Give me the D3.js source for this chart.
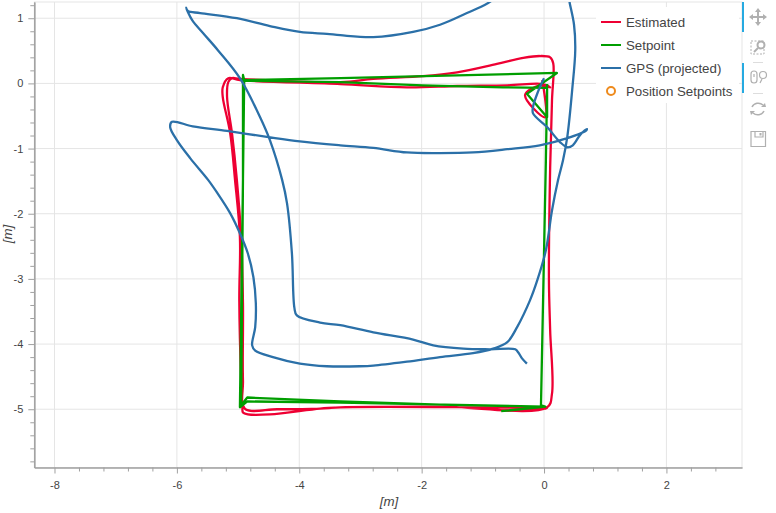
<!DOCTYPE html>
<html>
<head>
<meta charset="utf-8">
<script src="https://cdnjs.cloudflare.com/ajax/libs/d3/7.8.5/d3.min.js"></script>
<style>
  html, body { margin: 0; padding: 0; background: #fff; }
  svg { display: block; font-family: "Liberation Sans", Helvetica, Arial, sans-serif; }
</style>
</head>
<body>
<svg id="chart" width="776" height="513"></svg>
<script>
// values, [x, y] in metres
const estimated = [[-0.03,0.05],[0.02,-0.52],[-0.31,-0.18],[-0.07,-0.03],[0.10,-0.06],[-0.02,-0.01],
  [-0.60,-0.03],[-1.42,-0.04],[-2.24,-0.06],[-3.33,-0.01],[-4.97,0.05],[-5.16,0.08],[-5.25,-0.06],
  [-5.25,-0.21],[-5.13,-0.76],[-5.05,-1.48],[-4.97,-2.36],[-4.98,-3.33],[-4.95,-4.56],[-4.93,-4.97],
  [-4.92,-5.05],[-4.84,-5.08],[-4.48,-5.08],[-3.66,-4.99],[-3.33,-4.97],[-1.70,-4.96],[0.05,-4.97],
  [0.13,-4.76],[0.10,-3.79],[0.08,-3.02],[0.10,-1.29],[0.13,-0.26],[0.15,0.31],[0.10,0.40],[-0.07,0.42],
  [-0.34,0.39],[-0.77,0.30],[-1.42,0.17],[-1.98,0.11],[-2.79,0.07],[-3.33,0.02],[-4.97,0.07],[-5.10,0.08],
  [-5.16,0.02],[-5.18,-0.21],[-5.10,-0.76],[-5.02,-1.48],[-4.95,-2.36],[-4.92,-3.37],[-4.92,-4.56],
  [-4.89,-4.99],[-4.36,-5.00],[-3.66,-4.99],[-3.33,-4.97],[0.05,-4.99],[-0.69,-5.02]];

const setpoint = [[0.05,-0.01],[0.05,-0.52],[-0.28,-0.16],[0.21,0.16],[-3.33,0.08],[-4.90,0.05],[-4.92,0.13],[-4.92,-1.48],
  [-4.95,-4.94],[-4.85,-4.82],[-3.33,-4.88],[-1.70,-4.93],[0.02,-4.96],[-0.05,-4.94],[0.03,-1.18],[0.05,-0.07],
  [-0.67,-0.06],[-1.98,-0.03],[-3.33,0.02],[-4.90,0.04],[-4.92,-1.48],[-4.97,-4.97],[-4.85,-4.88],[-3.33,-4.90],
  [0.02,-4.96],[-0.70,-5.03]];

const gps = [[0.00,0.08],[-0.10,-0.13],[-0.18,-0.36],[-0.18,-0.46],[0.05,-0.67],[0.26,-0.90],[0.38,-0.98],
  [0.47,-0.95],[0.59,-0.79],[0.70,-0.70],[0.69,-0.72],[0.38,-0.84],[-0.07,-0.95],[-0.60,-1.01],[-1.16,-1.06],
  [-1.70,-1.07],[-2.24,-1.06],[-2.79,-0.99],[-3.33,-0.95],[-3.99,-0.89],[-4.53,-0.82],[-5.18,-0.73],[-5.74,-0.66],
  [-6.08,-0.59],[-6.11,-0.67],[-6.00,-0.87],[-5.78,-1.15],[-5.49,-1.48],[-5.34,-1.68],[-5.13,-1.99],[-4.97,-2.30],
  [-4.84,-2.61],[-4.75,-2.97],[-4.71,-3.37],[-4.72,-3.74],[-4.77,-4.02],[-4.72,-4.10],[-4.43,-4.20],[-3.99,-4.30],
  [-3.55,-4.34],[-3.01,-4.34],[-2.79,-4.33],[-2.24,-4.27],[-1.70,-4.20],[-1.16,-4.14],[-0.83,-4.07],[-0.60,-3.97],
  [-0.44,-3.74],[-0.23,-3.33],[-0.11,-3.02],[0.03,-2.56],[0.13,-1.95],[0.23,-1.48],[0.31,-1.18],[0.38,-0.82],
  [0.46,-0.10],[0.51,0.51],[0.49,0.90],[0.42,1.23],[0.39,1.37],[-0.23,1.66],[-0.92,1.23],[-1.26,1.08],[-1.70,0.90],
  [-2.14,0.79],[-2.79,0.71],[-3.33,0.74],[-3.55,0.76],[-3.99,0.79],[-4.48,0.88],[-5.02,1.00],[-5.62,1.08],
  [-5.82,1.11],[-5.85,1.16],[-5.75,0.97],[-5.57,0.77],[-5.33,0.51],[-4.97,0.08],[-4.64,-0.52],[-4.48,-0.87],
  [-4.28,-1.48],[-4.20,-1.84],[-4.12,-2.61],[-4.08,-3.44],[-4.04,-3.56],[-3.66,-3.67],[-3.33,-3.71],[-2.79,-3.82],
  [-2.14,-3.93],[-1.81,-4.02],[-1.32,-4.07],[-0.88,-4.08],[-0.47,-4.08],[-0.42,-4.13],[-0.36,-4.22],[-0.28,-4.30]];

const xTicks = [-8, -6, -4, -2, 0, 2];
const yTicks = [1, 0, -1, -2, -3, -4, -5];
const xMinor = d3.range(-8.0, 3.2, 0.4).map(d => +d.toFixed(1)).filter(d => !xTicks.includes(d));
const yMinor = d3.range(-5.8, 1.3, 0.2).map(d => +d.toFixed(1)).filter(d => !yTicks.includes(d));
const legendNames = ["Estimated", "Setpoint", "GPS (projected)", "Position Setpoints"];

const plotLeft = 34.3, plotRight = 742, plotTop = 2, plotBottom = 467.5;
const red = "#ee0033", green = "#009e00", blue = "#2b70a8", orange = "#ee8a1c";
const gridCol = "#e5e5e5", axisCol = "#a0a0a0", textCol = "#444";

const svg = d3.select("#chart");

const x = d3.scaleLinear().domain([-8.33, 3.235]).range([plotLeft, plotRight]);
const y = d3.scaleLinear().domain([-5.894, 1.249]).range([plotBottom, plotTop]);

svg.append("clipPath").attr("id", "plot")
  .append("rect").attr("x", plotLeft).attr("y", plotTop).attr("width", plotRight - plotLeft).attr("height", plotBottom - plotTop);

// grid and frame
const grid = svg.append("g").attr("stroke", gridCol).attr("fill", "none");
grid.selectAll(".gx").data(xTicks).join("line")
  .attr("x1", d => x(d)).attr("x2", d => x(d)).attr("y1", plotTop).attr("y2", plotBottom);
grid.selectAll(".gy").data(yTicks).join("line")
  .attr("x1", plotLeft).attr("x2", plotRight).attr("y1", d => y(d)).attr("y2", d => y(d));
grid.append("rect").attr("x", plotLeft).attr("y", plotTop).attr("width", plotRight - plotLeft).attr("height", plotBottom - plotTop);

// the three tracks
const smooth = d3.line().x(d => x(d[0])).y(d => y(d[1])).curve(d3.curveCatmullRom.alpha(0.5));
const straight = d3.line().x(d => x(d[0])).y(d => y(d[1]));
const tracks = svg.append("g").attr("clip-path", "url(#plot)").attr("fill", "none")
  .attr("stroke-width", 2.3).attr("stroke-linejoin", "round");
tracks.append("path").attr("d", smooth(estimated)).attr("stroke", red);
tracks.append("path").attr("d", straight(setpoint)).attr("stroke", green);
tracks.append("path").attr("d", smooth(gps)).attr("stroke", blue);

// axes, bokeh style: major ticks 6px, minor 4px
function styleAxis(g) {
  g.select(".domain").attr("stroke", axisCol).attr("stroke-width", 1.2);
  g.selectAll(".tick line").attr("stroke", axisCol);
  g.selectAll("text").attr("fill", textCol).attr("font-size", 11);
}
svg.append("g").attr("transform", `translate(0,${plotBottom})`)
  .call(d3.axisBottom(x).tickValues(xTicks).tickSize(6).tickSizeOuter(0).tickPadding(8).tickFormat(d => String(d)))
  .call(styleAxis);
svg.append("g").attr("transform", `translate(0,${plotBottom})`)
  .call(d3.axisBottom(x).tickValues(xMinor).tickSize(4).tickSizeOuter(0).tickFormat(""))
  .call(styleAxis);
svg.append("g").attr("transform", `translate(${plotLeft},0)`)
  .call(d3.axisLeft(y).tickValues(yTicks).tickSize(6).tickSizeOuter(0).tickPadding(5).tickFormat(d => String(d)))
  .call(styleAxis);
svg.append("g").attr("transform", `translate(${plotLeft},0)`)
  .call(d3.axisLeft(y).tickValues(yMinor).tickSize(4).tickSizeOuter(0).tickFormat(""))
  .call(styleAxis);

svg.append("text").attr("x", 389).attr("y", 506).attr("text-anchor", "middle")
  .attr("font-size", 13.3).attr("font-style", "italic").attr("fill", textCol).text("[m]");
svg.append("text").attr("transform", "translate(12,234) rotate(-90)").attr("text-anchor", "middle")
  .attr("font-size", 13.3).attr("font-style", "italic").attr("fill", textCol).text("[m]");

// legend
const legend = svg.append("g");
legend.append("rect").attr("x", 596).attr("y", 7).attr("width", 143).attr("height", 96).attr("fill", "#fff");
const legendCols = [red, green, blue];
legend.selectAll("line").data(legendCols).join("line")
  .attr("x1", 601).attr("x2", 621)
  .attr("y1", (d, i) => 22 + i * 23).attr("y2", (d, i) => 22 + i * 23)
  .attr("stroke", d => d).attr("stroke-width", 2);
legend.append("circle").attr("cx", 611).attr("cy", 91).attr("r", 4)
  .attr("fill", "none").attr("stroke", orange).attr("stroke-width", 2);
legend.selectAll("text").data(legendNames).join("text")
  .attr("x", 626).attr("y", (d, i) => 27 + i * 23)
  .attr("font-size", 13.3).attr("fill", textCol).text(d => d);

// toolbar on the right
const tools = svg.append("g").attr("fill", "none").attr("stroke", "#b0b0b0").attr("stroke-width", 1.2);
tools.append("rect").attr("x", 742).attr("y", 2).attr("width", 2).attr("height", 30).attr("fill", "#26aae1").attr("stroke", "none");
tools.append("rect").attr("x", 742).attr("y", 63).attr("width", 2).attr("height", 30).attr("fill", "#26aae1").attr("stroke", "none");
tools.append("path").attr("stroke", "#ddd").attr("stroke-width", 1).attr("d", "M753,62.5H763M753,93.5H763");
// pan
tools.append("path").attr("stroke-width", 2).attr("d", "M758,10V24M751,17H765");
tools.append("path").attr("fill", "#b0b0b0").attr("stroke", "none")
  .attr("d", "M758,8l3,4h-6zM758,26l3,-4h-6zM749,17l4,-3v6zM767,17l-4,-3v6z");
// box zoom
tools.append("rect").attr("x", 751).attr("y", 41).attr("width", 13).attr("height", 13).attr("stroke-dasharray", "2 1.5").attr("stroke-width", 1);
tools.append("circle").attr("cx", 761).attr("cy", 45).attr("r", 3.5).attr("fill", "#fff").attr("stroke-width", 2);
tools.append("path").attr("stroke-width", 2).attr("d", "M758,48L754,52");
// wheel zoom
tools.append("rect").attr("x", 751).attr("y", 71).attr("width", 6).attr("height", 12).attr("rx", 3);
tools.append("circle").attr("cx", 763).attr("cy", 75).attr("r", 3.5);
tools.append("path").attr("d", "M754,74V77M762,79L760,83");
// reset
tools.append("path").attr("stroke-width", 1.5).attr("d", "M752,107A7,7 0 0 1 763,105M764,111A7,7 0 0 1 753,113");
tools.append("path").attr("fill", "#b0b0b0").attr("stroke", "none").attr("d", "M766,107l-5,0l4,-4zM750,111l5,0l-4,4z");
// save
tools.append("path").attr("d", "M751,131.5H765.5V146.5H751ZM755,131.5V137H763V131.5");
tools.append("rect").attr("x", 759.5).attr("y", 133).attr("width", 2).attr("height", 2.5).attr("fill", "#b0b0b0").attr("stroke", "none");
</script>
</body>
</html>
